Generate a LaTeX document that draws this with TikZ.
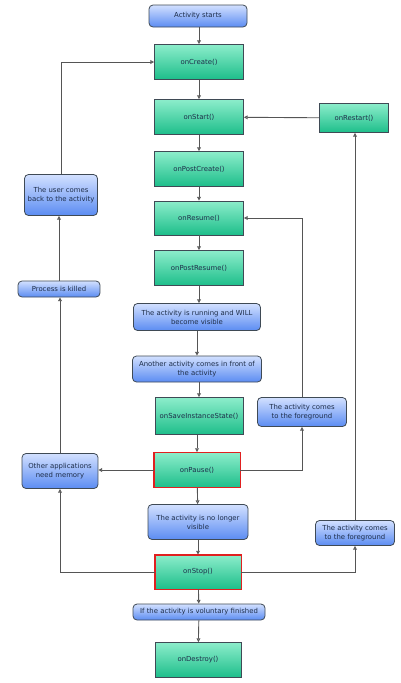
\documentclass[tikz,border=0pt]{standalone}
\usepackage{fontspec}
\setmainfont{DejaVu Sans}
\usetikzlibrary{arrows.meta}
\definecolor{gtop}{HTML}{8CEDCB}
\definecolor{gbot}{HTML}{1DBE8A}
\definecolor{btop}{HTML}{D2E0FF}
\definecolor{bbot}{HTML}{5B8CF2}
\definecolor{edge}{HTML}{3F4A55}
\definecolor{lne}{HTML}{555555}
\definecolor{txt}{HTML}{1E2E4A}
\definecolor{redge}{HTML}{E02020}
\begin{document}
\begin{tikzpicture}[x=1pt,y=-1pt,
  every node/.style={font=\fontsize{6.9}{9}\selectfont, text=txt, align=center, inner sep=1pt},
  gbox/.style={draw=edge, line width=0.8pt, top color=gtop, bottom color=gbot, minimum width=89pt, minimum height=35pt},
  rbox/.style={draw=redge, line width=0.9pt, top color=gtop, bottom color=gbot, minimum width=86pt, minimum height=35pt},
  redframe/.style={draw=redge, line width=1pt},
  bbox/.style={draw=edge, line width=0.8pt, rounded corners=4pt, top color=btop, bottom color=bbot},
  conn/.style={draw=lne, line width=0.9pt, -{Triangle[open,length=3.8pt,width=3.8pt]}}]
\useasboundingbox (0,0) rectangle (400,683);

\node[bbox, minimum width=98pt, minimum height=22pt] (actstart) at (198,16) {Activity starts};
\node[gbox] (create) at (199,62) {onCreate()};
\node[gbox] (startm) at (199,117) {onStart()};
\node[gbox, minimum width=69pt, minimum height=29pt] (restart) at (354,118) {onRestart()};
\node[gbox] (postcreate) at (199,169) {onPostCreate()};
\node[gbox, minimum height=34pt] (resume) at (199,218) {onResume()};
\node[gbox] (postresume) at (199,268) {onPostResume()};
\node[bbox, minimum width=127pt, minimum height=27pt] (running) at (197,317) {The activity is running and WILL\\become visible};
\node[bbox, minimum width=129pt, minimum height=26pt] (another) at (197,369) {Another activity comes in front of\\the activity};
\node[gbox, minimum width=88pt, minimum height=37pt] (save) at (199,416) {onSaveInstanceState()};
\node[rbox] (pausem) at (197,470) {onPause()};
\node[bbox, minimum width=100pt, minimum height=35pt] (novis) at (198,522) {The activity is no longer\\visible};
\node[rbox, minimum height=34pt] (stopm) at (198,572) {onStop()};
\node[bbox, minimum width=132pt, minimum height=16pt] (finished) at (199,612) {If the activity is voluntary finished};
\node[gbox, minimum width=86pt] (destroy) at (198,660) {onDestroy()};

\node[bbox, minimum width=73pt, minimum height=41pt] (user) at (61,195) {The user comes\\back to the activity};
\node[bbox, minimum width=82pt, minimum height=16pt] (killed) at (59,289) {Process is killed};
\node[bbox, minimum width=76pt, minimum height=35pt] (other) at (60,471) {Other applications\\need memory};

\node[bbox, minimum width=89pt, minimum height=29pt] (fg1) at (302,412) {The activity comes\\to the foreground};
\node[bbox, minimum width=79pt, minimum height=25pt] (fg2) at (355,533) {The activity comes\\to the foreground};

% red frames
\draw[redframe] (pausem.south west) rectangle (pausem.north east);
\draw[redframe] (stopm.south west) rectangle (stopm.north east);

% main chain
\draw[conn] (actstart.south -| create.north) -- (create.north);
\draw[conn] (create) -- (startm);
\draw[conn] (startm) -- (postcreate);
\draw[conn] (postcreate) -- (resume);
\draw[conn] (resume) -- (postresume);
\draw[conn] (postresume.south) -- (running.north -| postresume.south);
\draw[conn] (running.south -| another.north) -- (another.north);
\draw[conn] (another.south -| save.north) -- (save.north);
\draw[conn] (save.south -| pausem.north) -- (pausem.north);
\draw[conn] (pausem) -- (novis);
\draw[conn] (novis) -- (stopm);
\draw[conn] (stopm) -- (finished);
\draw[conn] (finished) -- (destroy);

% right loops
\draw[conn] (restart) -- (startm);
\draw[conn] (pausem.east) -| (fg1.south);
\draw[conn] (fg1.north) |- (resume.east);
\draw[conn] (stopm.east) -| (fg2.south);
\draw[conn] (fg2.north) -- (fg2.north |- restart.south);

% left loops
\draw[conn] (pausem.west) -- (other.east |- pausem.west);
\draw[conn] (stopm.west) -| (other.south);
\draw[conn] (other.north) -- (killed.south -| other.north);
\draw[conn] (killed.north) -- (killed.north |- user.south);
\draw[conn] (user.north) |- (create.west);
\end{tikzpicture}
\end{document}
